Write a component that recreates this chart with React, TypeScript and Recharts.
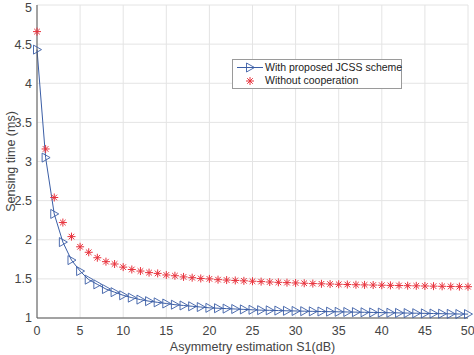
import { LineChart, Line, XAxis, YAxis, CartesianGrid } from "recharts";

const asymmetry = [
  0, 1, 2, 3, 4, 5, 6, 7, 8, 9, 10, 11, 12, 13, 14, 15, 16, 17, 18, 19, 20, 21, 22, 23, 24, 25,
  26, 27, 28, 29, 30, 31, 32, 33, 34, 35, 36, 37, 38, 39, 40, 41, 42, 43, 44, 45, 46, 47, 48, 49, 50,
];
const jcssTime = [
  4.43, 3.05, 2.33, 1.97, 1.74, 1.6, 1.49, 1.43, 1.37, 1.33, 1.29, 1.26, 1.235, 1.215, 1.2, 1.185,
  1.17, 1.16, 1.15, 1.14, 1.13, 1.125, 1.12, 1.115, 1.11, 1.105, 1.1, 1.098, 1.095, 1.092, 1.09,
  1.087, 1.085, 1.083, 1.081, 1.079, 1.077, 1.075, 1.073, 1.071, 1.069, 1.067, 1.065, 1.063, 1.061,
  1.059, 1.057, 1.055, 1.053, 1.051, 1.05,
];
const noCoopTime = [
  4.66, 3.16, 2.54, 2.22, 2.04, 1.91, 1.84, 1.77, 1.72, 1.69, 1.65, 1.62, 1.6, 1.58, 1.57, 1.55,
  1.54, 1.525, 1.515, 1.505, 1.5, 1.49, 1.485, 1.48, 1.475, 1.47, 1.465, 1.46, 1.456, 1.452, 1.448,
  1.444, 1.44, 1.437, 1.434, 1.431, 1.428, 1.425, 1.423, 1.421, 1.419, 1.417, 1.415, 1.413, 1.411,
  1.409, 1.407, 1.405, 1.403, 1.401, 1.4,
];
const xTicks = [0, 5, 10, 15, 20, 25, 30, 35, 40, 45, 50];
const yTicks = [1, 1.5, 2, 2.5, 3, 3.5, 4, 4.5, 5];

const data = asymmetry.map((x, i) => ({ x, jcss: jcssTime[i], noCoop: noCoopTime[i] }));

const BLUE = "#3b5ea6";
const RED = "#e8323c";
const TEXT = "#444";
const AXIS = "#555";

function Triangle({ cx, cy }: any) {
  if (cx == null || cy == null) return null;
  return (
    <path
      d={`M${cx - 3.5},${cy - 4.5} L${cx + 4.5},${cy} L${cx - 3.5},${cy + 4.5} Z`}
      fill="none"
      stroke={BLUE}
      strokeWidth={0.9}
    />
  );
}

function Star({ cx, cy }: any) {
  if (cx == null || cy == null) return null;
  const r = 4;
  const d = r * 0.7;
  return (
    <g stroke={RED} strokeWidth={1}>
      <line x1={cx - r} y1={cy} x2={cx + r} y2={cy} />
      <line x1={cx} y1={cy - r} x2={cx} y2={cy + r} />
      <line x1={cx - d} y1={cy - d} x2={cx + d} y2={cy + d} />
      <line x1={cx - d} y1={cy + d} x2={cx + d} y2={cy - d} />
    </g>
  );
}

function LegendBox() {
  return (
    <div
      style={{
        position: "absolute",
        left: 232,
        top: 59,
        width: 170,
        height: 30,
        border: "1px solid #9a9a9a",
        background: "#fff",
        boxSizing: "border-box",
        fontFamily: "Liberation Sans, Arial, sans-serif",
        fontSize: 10.5,
        color: "#222",
      }}
    >
      <svg width={30} height={28} style={{ position: "absolute", left: 2, top: 0 }}>
        <line x1={2} y1={7.5} x2={28} y2={7.5} stroke={BLUE} strokeWidth={1} />
        <Triangle cx={15} cy={7.5} />
        <Star cx={15} cy={21} />
      </svg>
      <div style={{ position: "absolute", left: 32, top: 1, whiteSpace: "nowrap" }}>
        With proposed JCSS scheme
      </div>
      <div style={{ position: "absolute", left: 32, top: 14, whiteSpace: "nowrap" }}>
        Without cooperation
      </div>
    </div>
  );
}

export default function App() {
  return (
    <div style={{ width: 474, height: 355, background: "#fff", position: "relative" }}>
      <style>{`body{margin:0}`}</style>
      <LineChart
        width={474}
        height={355}
        data={data}
        margin={{ top: 5, right: 6, bottom: 0, left: 0 }}
        style={{ fontFamily: "Liberation Sans, Arial, sans-serif" }}
      >
        <CartesianGrid stroke="#e4e4e4" strokeWidth={1} />
        <XAxis
          dataKey="x"
          type="number"
          domain={[0, 50]}
          ticks={xTicks}
          height={37}
          stroke={AXIS}
          tickSize={0}
          tickMargin={8}
          tick={{ fill: TEXT, fontSize: 12.5 }}
          label={{
            value: "Asymmetry estimation S1(dB)",
            position: "insideBottom",
            offset: 4,
            fill: TEXT,
            fontSize: 12.5,
          }}
        />
        <YAxis
          type="number"
          domain={[1, 5]}
          ticks={yTicks}
          width={37}
          stroke={AXIS}
          tickSize={0}
          tickMargin={5}
          tick={{ fill: TEXT, fontSize: 12.5 }}
          label={{
            value: "Sensing time (ms)",
            angle: -90,
            position: "insideLeft",
            offset: 11,
            fill: TEXT,
            fontSize: 12.5,
            style: { textAnchor: "middle" },
          }}
        />
        <XAxis xAxisId="top" orientation="top" dataKey="x" type="number" domain={[0, 50]} ticks={xTicks} height={0} mirror tickSize={4} stroke={AXIS} tick={false} />
        <XAxis xAxisId="inb" orientation="bottom" dataKey="x" type="number" domain={[0, 50]} ticks={xTicks} height={0} mirror tickSize={4} stroke={AXIS} tick={false} />
        <YAxis yAxisId="right" orientation="right" domain={[1, 5]} ticks={yTicks} width={0} mirror tickSize={4} stroke={AXIS} tick={false} />
        <YAxis yAxisId="inl" orientation="left" domain={[1, 5]} ticks={yTicks} width={0} mirror tickSize={4} stroke={AXIS} tick={false} />
        <Line
          dataKey="jcss"
          stroke={BLUE}
          strokeWidth={1}
          dot={<Triangle />}
          activeDot={false}
          isAnimationActive={false}
        />
        <Line
          dataKey="noCoop"
          stroke="none"
          dot={<Star />}
          activeDot={false}
          isAnimationActive={false}
        />
      </LineChart>
      <LegendBox />
    </div>
  );
}
